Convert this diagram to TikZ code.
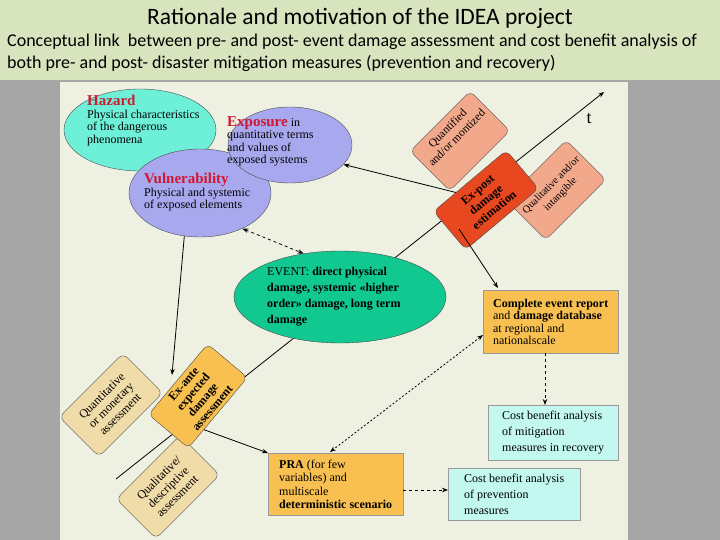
\documentclass[tikz,border=0pt]{standalone}
\usepackage{fontspec}
\setmainfont{Liberation Serif}
\newfontfamily\titlefont{Carlito}
\usetikzlibrary{shapes.geometric,arrows.meta}
\definecolor{pagebg}{HTML}{A6A6A6}
\definecolor{titlebg}{HTML}{D7E4BD}
\definecolor{panel}{HTML}{EEF0E2}
\definecolor{hazc}{HTML}{6EF0D8}
\definecolor{lav}{HTML}{A8A8EE}
\definecolor{evc}{HTML}{10C890}
\definecolor{salm}{HTML}{F2A88A}
\definecolor{redb}{HTML}{E84820}
\definecolor{orb}{HTML}{F8C050}
\definecolor{beig}{HTML}{F0DCA8}
\definecolor{cyb}{HTML}{C2F8F0}
\definecolor{redt}{HTML}{D01830}
\tikzset{
 ell/.style={ellipse,draw=black!70,thin,inner sep=0pt,align=left,font=\fontsize{12}{12.5}\selectfont},
 rbox/.style={draw=black!70,rounded corners=6pt,align=center,inner sep=2pt,font=\fontsize{11.5}{13}\selectfont},
 sbox/.style={draw=black!40,align=left,inner sep=3pt,anchor=north west,font=\fontsize{12}{13}\selectfont},
 arr/.style={-{Stealth[length=6pt]},thick},
 darr/.style={{Stealth[length=6pt]}-{Stealth[length=6pt]},dashed,thick},
 etext/.style={anchor=north west,align=left,inner sep=0pt,font=\fontsize{12}{12.5}\selectfont},
}
\begin{document}
\begin{tikzpicture}[x=1pt,y=-1pt]
\useasboundingbox (0,0) rectangle (720,540);
\fill[pagebg] (0,0) rectangle (720,540);
\fill[titlebg] (0,0) rectangle (720,80);
\fill[panel] (60,82) rectangle (628,540);
\node[font=\titlefont\fontsize{23.5}{23.5}\selectfont] (title) at (360,18) {Rationale and motivation of the IDEA project};
\node[font=\titlefont\fontsize{18}{22}\selectfont,align=left,anchor=north west,inner sep=0pt] (sub) at (7,34) {Conceptual link\ \ between pre- and post- event damage assessment and cost benefit analysis of\\both pre- and post- disaster mitigation measures (prevention and recovery)};
% timeline
\coordinate (tl0) at (116,479);
\coordinate (tl1) at (604,92);
\draw[arr] (tl0) -- (tl1);
\node[font=\fontsize{18}{18}\selectfont] (tlab) at (589,119) {t};
% ellipses
\node[ell,fill=hazc,minimum width=152pt,minimum height=82pt] (haz) at (140,130) {};
\node[ell,fill=lav,minimum width=142pt,minimum height=88pt] (vul) at (200,193) {};
\node[ell,fill=lav,minimum width=124pt,minimum height=76pt] (exp) at (290,145) {};
\node[etext] (hazt) at (87,95) {{\color{redt}\fontsize{15}{15}\selectfont\bfseries Hazard}\\Physical characteristics\\of the dangerous\\phenomena};
\node[etext] (expt) at (227,116) {{\color{redt}\fontsize{15}{15}\selectfont\bfseries Exposure} in\\quantitative terms\\and values of\\exposed systems};
\node[etext] (vult) at (144,173) {{\color{redt}\fontsize{15}{15}\selectfont\bfseries Vulnerability}\\Physical and systemic\\of exposed elements};
\node[ell,fill=evc,minimum width=212pt,minimum height=92pt] (ev) at (340,297) {};
\node[etext,font=\fontsize{12}{16}\selectfont] (evt) at (267,267) {EVENT: \textbf{direct physical}\\\textbf{damage, systemic «higher}\\\textbf{order» damage, long term}\\\textbf{damage}};
% rotated boxes top right
\node[rbox,fill=salm,rotate=45,minimum width=85pt,minimum height=56pt] (quant) at (460,141) {Quantified\\and/or montized\\[10pt]};
\node[rbox,fill=salm,rotate=45,minimum width=85pt,minimum height=56pt] (qual) at (556,190) {\fontsize{10.5}{12}\selectfont Qualitative and/or\\\fontsize{10.5}{12}\selectfont intangible};
\node[rbox,fill=redb,rotate=40,minimum width=95pt,minimum height=50pt,font=\fontsize{12}{13}\selectfont\bfseries] (expost) at (486,200) {Ex-post\\damage\\estimation};
% boxes right
\node[sbox,fill=orb,minimum width=135pt,minimum height=63pt,font=\fontsize{12}{12.5}\selectfont] (rep) at (483,290) {\textbf{Complete event report}\\and \textbf{damage database}\\at regional and\\nationalscale};
\node[sbox,fill=cyb,minimum width=130pt,minimum height=55pt,font=\fontsize{12}{16}\selectfont] (cbr) at (488,405) {Cost benefit analysis\\of mitigation\\measures in recovery};
\node[sbox,fill=orb,minimum width=135pt,minimum height=62pt,font=\fontsize{12}{13.5}\selectfont] (pra) at (268,453) {\textbf{PRA} (for few\\variables) and\\multiscale\\\textbf{deterministic scenario}};
\node[sbox,fill=cyb,minimum width=132pt,minimum height=52pt,font=\fontsize{12}{16}\selectfont] (cbp) at (448,468) {Cost benefit analysis\\of prevention\\measures};
% lower left rotated
\node[rbox,fill=beig,rotate=45,minimum width=90pt,minimum height=56pt,font=\fontsize{12}{13}\selectfont] (qm) at (111,405) {Quantitative\\or monetary\\assessment};
\node[rbox,fill=beig,rotate=45,minimum width=90pt,minimum height=56pt,font=\fontsize{12}{13}\selectfont] (qd) at (168,487) {Qualitative/\\descriptive\\assessment};
\node[rbox,fill=orb,rotate=50,minimum width=92pt,minimum height=52pt,font=\fontsize{12}{12.5}\selectfont\bfseries] (exante) at (198,396) {Ex-ante\\expected\\damage\\assessment};
% connectors
\coordinate (eps) at (459,229);
\coordinate (rept) at (498,288);
\draw[arr] (expost) -- (exp.-20);
\draw[arr] (eps) -- (rept);
\draw[darr] (vul.-40) -- (ev.130);
\draw[arr] (vul.-110) -- (172,375);
\draw[arr] (exante.-130) -- (pra.north west);
\draw[darr,dash pattern=on 2pt off 2pt] (rep.west |- 483,335) -- (330,452);
\draw[arr,dashed] (545,353) -- (cbr.north west -| 545,405);
\draw[arr,dashed] (pra.east |- 408,490) -- (cbp.west |- 444,490);
\end{tikzpicture}
\end{document}
